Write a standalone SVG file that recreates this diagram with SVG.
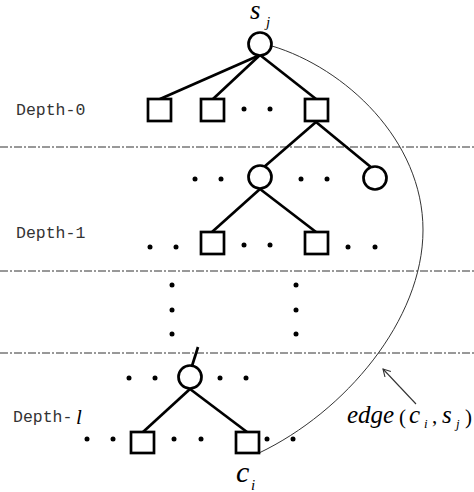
<svg xmlns="http://www.w3.org/2000/svg" width="474" height="492" viewBox="0 0 474 492">
<style>
.n{fill:#fff;stroke:#000;stroke-width:2.7}
.e{stroke:#000;stroke-width:2.7;fill:none}
.d{fill:#000}
.sep{stroke:#333;stroke-width:1;stroke-dasharray:8,2,2,2;fill:none}
.lbl{font-family:"Liberation Mono",monospace;font-size:16.5px;fill:#333}
.m{font-family:"Liberation Serif",serif;font-style:italic;fill:#000}
.p{font-family:"Liberation Serif",serif;fill:#000}
</style>
<defs>
<marker id="ah" viewBox="0 0 10 10" refX="9" refY="5" markerWidth="9" markerHeight="9" orient="auto" markerUnits="userSpaceOnUse">
<path d="M1,0.5 L9,5 L1,9.5" fill="none" stroke="#333" stroke-width="1.2"/>
</marker>
</defs>
<rect width="474" height="492" fill="#fff"/>
<g id="separators">
<line class="sep" x1="0" y1="147" x2="474" y2="147"/>
<line class="sep" x1="0" y1="271" x2="474" y2="271"/>
<line class="sep" x1="0" y1="353" x2="474" y2="353"/>
</g>
<g id="connectors">
<line class="e" x1="260" y1="55" x2="160" y2="99"/>
<line class="e" x1="260" y1="55" x2="213" y2="99"/>
<line class="e" x1="260" y1="55" x2="316" y2="99"/>
<line class="e" x1="316" y1="122" x2="264" y2="167"/>
<line class="e" x1="316" y1="122" x2="372" y2="168"/>
<line class="e" x1="260" y1="189" x2="212" y2="232"/>
<line class="e" x1="260" y1="189" x2="316" y2="232"/>
<line class="e" x1="198" y1="347" x2="192" y2="366"/>
<line class="e" x1="190" y1="389" x2="143" y2="432"/>
<line class="e" x1="190" y1="389" x2="247" y2="432"/>
<path d="M272,46 C345,68 423,140 423,230 C423,320 345,412 259,453" fill="none" stroke="#333" stroke-width="1"/>
<line x1="416" y1="404" x2="383" y2="369" stroke="#333" stroke-width="1.1" marker-end="url(#ah)"/>
</g>
<g id="dots">
<circle class="d" cx="244" cy="109" r="2.5"/><circle class="d" cx="270" cy="109" r="2.5"/>
<circle class="d" cx="195" cy="179" r="2.5"/><circle class="d" cx="221" cy="179" r="2.5"/>
<circle class="d" cx="301" cy="179" r="2.5"/><circle class="d" cx="327" cy="179" r="2.5"/>
<circle class="d" cx="150" cy="247" r="2.5"/><circle class="d" cx="176" cy="247" r="2.5"/>
<circle class="d" cx="244" cy="245" r="2.5"/><circle class="d" cx="270" cy="245" r="2.5"/>
<circle class="d" cx="348" cy="247" r="2.5"/><circle class="d" cx="375" cy="247" r="2.5"/>
<circle class="d" cx="172" cy="285" r="2.5"/><circle class="d" cx="172" cy="310" r="2.5"/><circle class="d" cx="172" cy="334" r="2.5"/>
<circle class="d" cx="296" cy="285" r="2.5"/><circle class="d" cx="296" cy="310" r="2.5"/><circle class="d" cx="296" cy="334" r="2.5"/>
<circle class="d" cx="129" cy="378" r="2.5"/><circle class="d" cx="155" cy="378" r="2.5"/>
<circle class="d" cx="220" cy="378" r="2.5"/><circle class="d" cx="246" cy="378" r="2.5"/>
<circle class="d" cx="87" cy="439" r="2.5"/><circle class="d" cx="113" cy="439" r="2.5"/>
<circle class="d" cx="174" cy="439" r="2.5"/><circle class="d" cx="201" cy="439" r="2.5"/>
<circle class="d" cx="267" cy="439" r="2.5"/><circle class="d" cx="293" cy="439" r="2.5"/>
</g>
<g id="node-sj"><circle class="n" cx="260" cy="44" r="11.5"/></g>
<g id="node-d0-a"><rect class="n" x="148" y="99" width="23" height="22"/></g>
<g id="node-d0-b"><rect class="n" x="201" y="99" width="23" height="22"/></g>
<g id="node-d0-c"><rect class="n" x="305" y="99" width="23" height="22"/></g>
<g id="node-d1-s1"><circle class="n" cx="260" cy="177" r="11.5"/></g>
<g id="node-d1-s2"><circle class="n" cx="375" cy="178" r="11.5"/></g>
<g id="node-d1-a"><rect class="n" x="201" y="232" width="23" height="22"/></g>
<g id="node-d1-b"><rect class="n" x="305" y="232" width="23" height="22"/></g>
<g id="node-dl-s"><circle class="n" cx="190" cy="377" r="11.5"/></g>
<g id="node-dl-a"><rect class="n" x="131" y="432" width="23" height="21"/></g>
<g id="node-ci"><rect class="n" x="236" y="432" width="23" height="21"/></g>
<g id="labels">
<text class="lbl" x="16" y="115">Depth-0</text>
<text class="lbl" x="16" y="238">Depth-1</text>
<text class="lbl" x="13" y="422">Depth-</text>
<text class="m" x="76" y="424" font-size="21">l</text>
<text class="m" x="250" y="19" font-size="27">s</text>
<text class="m" x="266" y="27" font-size="15">j</text>
<text class="m" x="236" y="482" font-size="30">c</text>
<text class="m" x="251" y="490" font-size="15">i</text>
<text class="m" x="347" y="423" font-size="25">edge</text>
<text class="p" x="399" y="424" font-size="21">(</text>
<text class="m" x="409" y="423" font-size="25">c</text>
<text class="m" x="424" y="428" font-size="13">i</text>
<text class="p" x="432" y="423" font-size="21">,</text>
<text class="m" x="442" y="423" font-size="25">s</text>
<text class="m" x="456" y="428" font-size="13">j</text>
<text class="p" x="465" y="424" font-size="21">)</text>
</g>
</svg>
